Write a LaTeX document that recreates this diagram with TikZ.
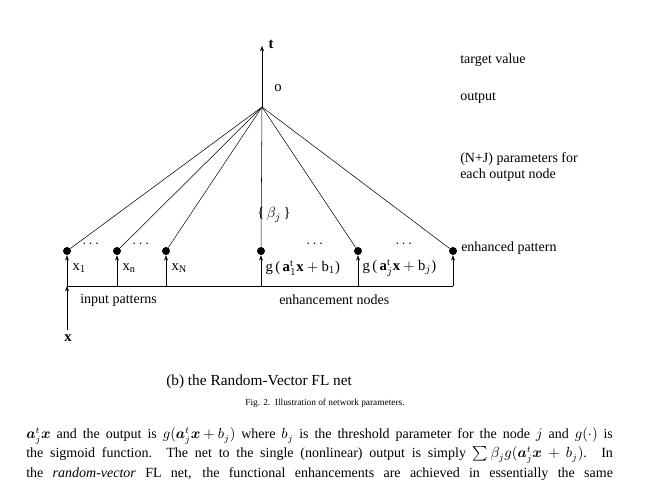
\documentclass[tikz,border=0pt]{standalone}
\usepackage{fontspec}
\setmainfont{Liberation Serif}
\usepackage{amsmath}
\usetikzlibrary{arrows.meta}
\begin{document}
\begin{tikzpicture}[
        x=0.75pt, y=-0.75pt,
        unit/.style={circle, fill=black, inner sep=0pt, minimum size=6pt},
        feed/.style={-{Stealth[length=4pt,width=3pt]}, thin},
        label text/.style={font=\fontsize{11}{13}\selectfont, inner sep=1pt},
        side text/.style={font=\fontsize{10.5}{12.5}\selectfont, anchor=west, inner sep=0pt, align=left},
        body line/.style={anchor=west, inner sep=0pt, font=\fontsize{10.5}{12}\selectfont},
        ]
        \useasboundingbox (0,0) rectangle (645,494);
        % output node and target
        \coordinate (out) at (262,107);
        \coordinate (target) at (262,46);
        \draw [feed] (out) -- (target);
        \node [label text] (t) at (271,44) {\textbf{t}};
        \node [label text] (o) at (278,88) {o};
        % enhanced pattern nodes
        \foreach \name/\xx in {x1/67, xn/117, xN/166, g1/261, gj/358, gJ/453} {
          \node [unit] (\name) at (\xx,251) {};
          \draw (out) -- (\name);
          \coordinate (\name-base) at (\xx,286);
          \draw [feed] (\name-base) -- (\name);
        }
        \draw (x1-base) -- (gJ-base);
        \coordinate (xin) at (67,330);
        \draw [feed] (xin) -- (x1-base);
        \node [label text] (x) at (68,338) {\textbf{x}};
        % dots
        \foreach \xx in {92, 142, 316, 405}
          \node [label text] at (\xx,244) {$\cdots$};
        % labels
        \node [label text, anchor=west] at (71,268) {x$_{1}$};
        \node [label text, anchor=west] at (121,268) {x$_{\mathrm{n}}$};
        \node [label text, anchor=west] at (170,268) {x$_{\mathrm{N}}$};
        \node [label text, anchor=west] at (264,268) {g\,(\,$\mathbf{a}^{\mathrm{t}}_{1}\mathbf{x}+\mathrm{b}_{1}$)};
        \node [label text, anchor=west] at (361,268) {g\,(\,$\mathbf{a}^{\mathrm{t}}_{j}\mathbf{x}+\mathrm{b}_{j}$)};
        \node [label text] at (274,215) {\{\,$\beta_{j}$\,\}};
        \node [side text] at (80,300) {input patterns};
        \node [side text] at (279,300) {enhancement nodes};
        % right side texts
        \node [side text] at (460,60) {target value};
        \node [side text] at (460,98) {output};
        \node [side text] at (460,167) {(N+J) parameters for\\each output node};
        \node [side text] at (461,248) {enhanced pattern};
        % caption
        \node [font=\fontsize{11.5}{13}\selectfont, anchor=west, inner sep=0pt] at (166,382) {(b) the Random-Vector FL net};
        \node [font=\fontsize{7}{8}\selectfont, inner sep=0pt] at (325,403) {Fig. 2.\ \ Illustration of network parameters.};
        \node [body line] at (26,436)
          {\makebox[440pt][s]{$\boldsymbol{a}^{t}_{j}\boldsymbol{x}$ and the output is $g(\boldsymbol{a}^{t}_{j}\boldsymbol{x}\!+\!b_{j})$ where $b_{j}$ is the threshold parameter for the node $j$ and $g(\cdot)$ is}};
        \node [body line] at (26,455)
          {\makebox[440pt][s]{the sigmoid function. The net to the single (nonlinear) output is simply $\sum\beta_{j}g(\boldsymbol{a}^{t}_{j}\boldsymbol{x}+b_{j})$. In}};
        \node [body line] at (26,474)
          {\makebox[440pt][s]{the \textit{random-vector} FL net, the functional enhancements are achieved in essentially the same}};
      \end{tikzpicture}
\end{document}
